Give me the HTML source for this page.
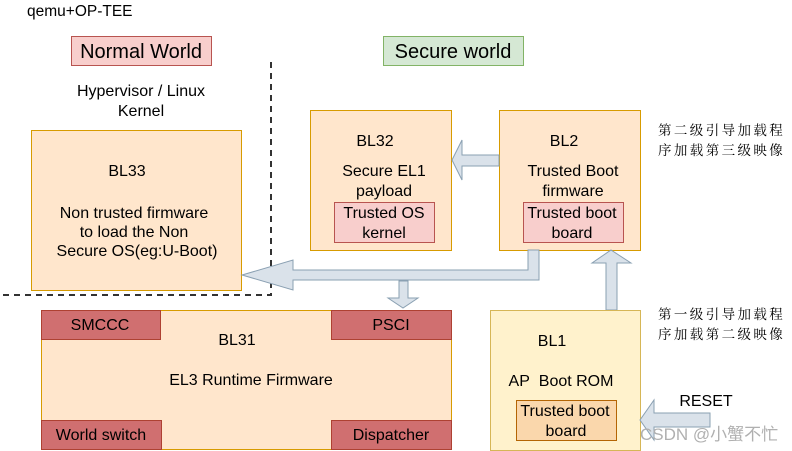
<!DOCTYPE html>
<html><head><meta charset="utf-8"><style>
body{margin:0;background:#fff}
svg{display:block}
text{font-family:"Liberation Sans","Noto Sans CJK SC",sans-serif;fill:#000;font-size:16px}
.cn{font-family:"Noto Serif CJK SC","Noto Sans CJK SC",serif;font-size:13.5px;letter-spacing:2.4px}
</style></head><body>
<svg width="792" height="451" viewBox="0 0 792 451" xmlns="http://www.w3.org/2000/svg">
<text x="27" y="16" style="font-size:15.5px">qemu+OP-TEE</text>
<rect x="71.5" y="36.5" width="140" height="29" fill="#f8cecc" stroke="#b85450"/>
<text x="141" y="58" style="font-size:20px" text-anchor="middle">Normal World</text>
<rect x="383.5" y="36.5" width="140" height="29" fill="#d5e8d4" stroke="#82b366"/>
<text x="453" y="58" style="font-size:20px" text-anchor="middle">Secure world</text>
<text x="141" y="96" text-anchor="middle">Hypervisor / Linux</text>
<text x="141" y="116" text-anchor="middle">Kernel</text>
<path d="M271 62 V295 H0" fill="none" stroke="#333" stroke-width="2" stroke-dasharray="6,5"/>
<rect x="31.5" y="130.5" width="210" height="160" fill="#ffe6cc" stroke="#d79b00"/>
<text x="127" y="176" text-anchor="middle">BL33</text>
<text x="134" y="218" text-anchor="middle">Non trusted firmware</text>
<text x="134" y="237" text-anchor="middle">to load the Non</text>
<text x="137" y="256" text-anchor="middle">Secure OS(eg:U-Boot)</text>
<rect x="310.5" y="110.5" width="141" height="140" fill="#ffe6cc" stroke="#d79b00"/>
<text x="375" y="146" text-anchor="middle">BL32</text>
<text x="384" y="176" text-anchor="middle">Secure EL1</text>
<text x="384" y="196" text-anchor="middle">payload</text>
<rect x="334.5" y="202.5" width="100" height="40" fill="#f8cecc" stroke="#b85450"/>
<text x="384" y="218" text-anchor="middle">Trusted OS</text>
<text x="384" y="238" text-anchor="middle">kernel</text>
<rect x="499.5" y="110.5" width="141" height="140" fill="#ffe6cc" stroke="#d79b00"/>
<text x="564" y="146" text-anchor="middle">BL2</text>
<text x="573" y="176" text-anchor="middle">Trusted Boot</text>
<text x="573" y="196" text-anchor="middle">firmware</text>
<rect x="523.5" y="202.5" width="100" height="40" fill="#f8cecc" stroke="#b85450"/>
<text x="572" y="218" text-anchor="middle">Trusted boot</text>
<text x="572" y="238" text-anchor="middle">board</text>
<polygon points="499,155 462,155 462,140 452,160 462,180 462,166 499,166" fill="#dae2ea" stroke="#8aa0b2"/>
<polygon points="528,250 539,250 539,280 293,280 293,290 242,275 293,260 293,270 528,270" fill="#dae2ea" stroke="#8aa0b2"/>
<polygon points="399,281 408,281 408,298 418,298 403,308 388,298 399,298" fill="#dae2ea" stroke="#8aa0b2"/>
<polygon points="606,310 617,310 617,263 631,263 611,250 592,263 606,263" fill="#dae2ea" stroke="#8aa0b2"/>
<rect x="41.5" y="310.5" width="410" height="139" fill="#ffe6cc" stroke="#d79b00"/>
<rect x="41.5" y="310.5" width="119" height="29" fill="#d06f70" stroke="#ae4132"/>
<text x="100" y="330" text-anchor="middle">SMCCC</text>
<rect x="331.5" y="310.5" width="120" height="29" fill="#d06f70" stroke="#ae4132"/>
<text x="391" y="330" text-anchor="middle">PSCI</text>
<rect x="41.5" y="420.5" width="120" height="29" fill="#d06f70" stroke="#ae4132"/>
<text x="101" y="440" text-anchor="middle">World switch</text>
<rect x="331.5" y="420.5" width="120" height="29" fill="#d06f70" stroke="#ae4132"/>
<text x="391" y="440" text-anchor="middle">Dispatcher</text>
<text x="237" y="345" text-anchor="middle">BL31</text>
<text x="251" y="385" text-anchor="middle">EL3 Runtime Firmware</text>
<rect x="490.5" y="310.5" width="150" height="140" fill="#fff2cc" stroke="#d6b656"/>
<text x="552" y="346" text-anchor="middle">BL1</text>
<text x="561" y="386" text-anchor="middle">AP&#160;&#160;Boot ROM</text>
<rect x="516.5" y="400.5" width="100" height="40" fill="#fad7ac" stroke="#b46504"/>
<text x="565" y="416" text-anchor="middle">Trusted boot</text>
<text x="566" y="436" text-anchor="middle">board</text>
<polygon points="710,413 654,413 654,400 640,420 654,440 654,427 710,427" fill="#dae2ea" stroke="#8aa0b2"/>
<text x="706" y="406" text-anchor="middle">RESET</text>
<text x="640" y="440" style="fill:#b0b0b0;font-size:17px">CSDN @小蟹不忙</text>
<text x="658" y="135" class="cn">第二级引导加载程</text>
<text x="658" y="155" class="cn">序加载第三级映像</text>
<text x="658" y="319" class="cn">第一级引导加载程</text>
<text x="658" y="339" class="cn">序加载第二级映像</text>
</svg>
</body></html>
